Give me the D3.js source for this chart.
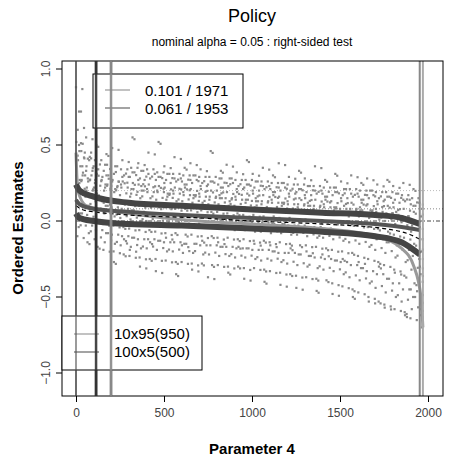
<!DOCTYPE html><html><head><meta charset="utf-8">
<script src="https://cdn.jsdelivr.net/npm/d3@7"></script>
<style>body{margin:0;background:#fff}svg{font-family:Arial,"Liberation Sans",sans-serif}</style>
</head><body><svg id="c" width="474" height="473"></svg>
<script>
const title="Policy", subtitle="nominal alpha = 0.05 : right-sided test";
const xTicks=[0,500,1000,1500,2000], yTicks=[-1.0,-0.5,0.0,0.5,1.0];
const legend1=["0.101 / 1971","0.061 / 1953"], legend2=["10x95(950)","100x5(500)"];
const vLines=[0,114,199,1953,1971];
const hLines=[0.2,0.08,0];
const darkUpper=[[0,0.24],[20,0.2],[100,0.16],[300,0.12],[600,0.1],[1000,0.075],[1400,0.055],[1700,0.04],[1850,0.02],[1953,-0.02]];
const darkMid=[[0,0.14],[20,0.11],[100,0.08],[300,0.06],[600,0.04],[1000,0.02],[1400,0.0],[1700,-0.02],[1850,-0.04],[1953,-0.06]];
const darkLower=[[0,0.05],[20,0.02],[100,0.0],[300,-0.02],[600,-0.03],[1000,-0.05],[1400,-0.07],[1700,-0.1],[1850,-0.14],[1953,-0.22]];
const center=[[0,0.1],[50,0.07],[300,0.04],[700,0.02],[1000,0.0],[1400,-0.02],[1750,-0.05],[1900,-0.09],[1953,-0.12]];
const lightLine=[[0,0.45],[10,0.2],[60,0.1],[300,0.05],[700,0.0],[1000,-0.02],[1400,-0.05],[1700,-0.1],[1850,-0.18],[1920,-0.3],[1960,-0.5],[1971,-0.7]];
const binX=[0,50,100,150,200,250,300,350,400,450,500,550,600,650,700,750,800,850,900,950,1000,1050,1100,1150,1200,1250,1300,1350,1400,1450,1500,1550,1600,1650,1700,1750,1800,1850,1900,1950];
const binY=[
[0.88,0.72,0.6,0.52,0.46,0.4,0.33,0.27,0.2,0.12,0.05,-0.04,-0.1,0.36,0.5,0.43,0.3,0.25],
[0.55,0.45,0.41,0.36,0.3,0.26,0.22,0.16,0.1,0.04,-0.03,-0.08,-0.14,0.33,0.4,0.28,0.2],
[0.5,0.4,0.36,0.31,0.27,0.22,0.18,0.13,0.07,0.0,-0.06,-0.12,-0.17,0.34,0.25,0.15],
[0.44,0.37,0.33,0.29,0.24,0.2,0.15,0.1,0.05,-0.02,-0.08,-0.14,-0.19,0.3,0.22,0.12],
[0.48,0.36,0.31,0.27,0.23,0.19,0.14,0.09,0.03,-0.03,-0.09,-0.15,-0.2,0.26,0.21,-0.27],
[0.4,0.34,0.3,0.26,0.22,0.17,0.12,0.08,0.02,-0.04,-0.1,-0.16,-0.22,0.29,0.24,-0.12],
[0.55,0.35,0.29,0.25,0.21,0.16,0.11,0.07,0.01,-0.05,-0.11,-0.17,-0.23,0.32,0.18,-0.19],
[0.38,0.33,0.28,0.24,0.2,0.15,0.1,0.06,0.0,-0.06,-0.12,-0.18,-0.24,0.27,0.23,-0.3],
[0.45,0.34,0.28,0.24,0.19,0.15,0.1,0.05,0.0,-0.06,-0.12,-0.18,-0.25,0.31,0.21,-0.14],
[0.52,0.32,0.27,0.23,0.19,0.14,0.09,0.05,-0.01,-0.07,-0.13,-0.19,-0.25,0.29,0.2,-0.33],
[0.36,0.31,0.27,0.22,0.18,0.14,0.09,0.04,-0.02,-0.08,-0.14,-0.2,-0.26,0.25,0.16,-0.11],
[0.42,0.31,0.26,0.22,0.18,0.13,0.08,0.04,-0.02,-0.08,-0.14,-0.2,-0.27,0.28,0.2,-0.35],
[0.35,0.3,0.26,0.22,0.17,0.13,0.08,0.03,-0.03,-0.09,-0.15,-0.21,-0.27,0.24,0.19,-0.16],
[0.38,0.3,0.25,0.21,0.17,0.12,0.07,0.03,-0.03,-0.09,-0.15,-0.21,-0.28,0.27,0.15,-0.32],
[0.34,0.29,0.25,0.21,0.16,0.12,0.07,0.02,-0.04,-0.1,-0.16,-0.22,-0.28,0.23,0.18,-0.13],
[0.46,0.29,0.24,0.2,0.16,0.11,0.06,0.02,-0.04,-0.1,-0.16,-0.22,-0.29,0.26,0.14,-0.37],
[0.33,0.28,0.24,0.2,0.15,0.11,0.06,0.01,-0.05,-0.11,-0.17,-0.23,-0.29,0.22,0.17,-0.14],
[0.37,0.28,0.23,0.19,0.15,0.1,0.05,0.01,-0.05,-0.11,-0.17,-0.23,-0.3,0.25,0.13,-0.34],
[0.32,0.27,0.23,0.19,0.14,0.1,0.05,0.0,-0.06,-0.12,-0.18,-0.24,-0.3,0.21,0.16,-0.17],
[0.4,0.27,0.22,0.18,0.14,0.09,0.04,0.0,-0.06,-0.12,-0.18,-0.24,-0.31,0.24,0.12,-0.38],
[0.31,0.26,0.22,0.18,0.13,0.09,0.04,-0.01,-0.07,-0.13,-0.19,-0.25,-0.31,0.2,0.15,-0.15],
[0.35,0.26,0.21,0.17,0.13,0.08,0.03,-0.01,-0.07,-0.13,-0.19,-0.26,-0.32,0.23,0.11,-0.4],
[0.3,0.25,0.21,0.17,0.12,0.08,0.03,-0.02,-0.08,-0.14,-0.2,-0.26,-0.33,0.19,0.14,-0.16],
[0.38,0.25,0.2,0.16,0.12,0.07,0.02,-0.02,-0.08,-0.14,-0.21,-0.27,-0.34,0.22,0.1,-0.42],
[0.29,0.24,0.2,0.16,0.11,0.07,0.02,-0.03,-0.09,-0.15,-0.21,-0.28,-0.35,0.18,0.13,-0.18],
[0.33,0.24,0.19,0.15,0.11,0.06,0.01,-0.03,-0.09,-0.16,-0.22,-0.29,-0.36,0.21,0.09,-0.44],
[0.28,0.23,0.19,0.15,0.1,0.06,0.01,-0.04,-0.1,-0.16,-0.23,-0.3,-0.37,0.17,0.12,-0.2],
[0.36,0.23,0.18,0.14,0.1,0.05,0.0,-0.04,-0.11,-0.17,-0.24,-0.31,-0.38,0.2,0.08,-0.46],
[0.27,0.22,0.18,0.14,0.09,0.05,0.0,-0.05,-0.11,-0.18,-0.25,-0.32,-0.39,0.16,0.11,-0.22],
[0.31,0.22,0.17,0.13,0.09,0.04,-0.01,-0.06,-0.12,-0.19,-0.26,-0.33,-0.41,0.19,0.07,-0.48],
[0.26,0.21,0.17,0.13,0.08,0.04,-0.01,-0.07,-0.13,-0.2,-0.27,-0.35,-0.43,0.15,0.1,-0.25],
[0.3,0.21,0.16,0.12,0.08,0.03,-0.02,-0.08,-0.14,-0.21,-0.29,-0.37,-0.45,0.18,0.06,-0.5],
[0.25,0.2,0.16,0.12,0.07,0.03,-0.03,-0.09,-0.15,-0.23,-0.31,-0.39,-0.47,0.14,0.09,-0.27],
[0.28,0.2,0.15,0.11,0.07,0.02,-0.04,-0.1,-0.17,-0.25,-0.33,-0.41,-0.5,0.17,0.05,-0.53],
[0.24,0.19,0.15,0.11,0.06,0.01,-0.05,-0.12,-0.19,-0.27,-0.35,-0.44,-0.53,0.13,0.08,-0.3],
[0.27,0.19,0.14,0.1,0.05,0.0,-0.07,-0.14,-0.21,-0.29,-0.38,-0.47,-0.55,0.16,0.04,-0.57],
[0.23,0.18,0.14,0.09,0.04,-0.02,-0.09,-0.16,-0.24,-0.32,-0.41,-0.5,-0.58,0.12,0.06,-0.34],
[0.25,0.17,0.13,0.08,0.03,-0.04,-0.11,-0.19,-0.27,-0.36,-0.45,-0.53,-0.6,0.14,0.02,-0.62],
[0.21,0.15,0.11,0.06,0.0,-0.07,-0.15,-0.23,-0.32,-0.41,-0.5,-0.58,-0.64,0.1,-0.03,-0.45],
[0.12,0.08,0.03,-0.04,-0.12,-0.2,-0.3,-0.4,-0.5,-0.58,-0.65,-0.7,-0.35,-0.25,-0.55,-0.62]];

const svg=d3.select("#c");
const L=62,R=443,T=61,B=396;
const x=d3.scaleLinear().domain([0,2000]).range([76,428]);
const y=d3.scaleLinear().domain([-1,1]).range([373,69]);
svg.append("text").attr("x",252).attr("y",22).attr("text-anchor","middle").attr("font-size",18).text(title);
svg.append("text").attr("x",252).attr("y",46).attr("text-anchor","middle").attr("font-size",12).text(subtitle);
svg.append("clipPath").attr("id","cp").append("rect").attr("x",L).attr("y",T).attr("width",R-L).attr("height",B-T);
const g=svg.append("g").attr("clip-path","url(#cp)");
g.append("line").attr("x1",x(0)).attr("x2",R).attr("y1",y(hLines[0])).attr("y2",y(hLines[0])).attr("stroke","#bbb").attr("stroke-dasharray","1,2");
g.append("line").attr("x1",x(0)).attr("x2",R).attr("y1",y(hLines[1])).attr("y2",y(hLines[1])).attr("stroke","#888").attr("stroke-dasharray","1,2");
g.append("line").attr("x1",x(0)).attr("x2",R).attr("y1",y(hLines[2])).attr("y2",y(hLines[2])).attr("stroke","#444").attr("stroke-dasharray","4,2,1,2");
binX.forEach((bx,i)=>binY[i].forEach((v,j)=>{
  [0,25].forEach((o,k)=>{
    const xi=Math.min(bx+o+((j*17.3+i*7.7+k*11)%25),1971);
    const yy=y(v+(k?0.012*((j%3)-1):0));
    g.append("rect").attr("x",x(xi)-1.1).attr("y",yy-1.1).attr("width",2.2).attr("height",2.2).attr("fill","#8a8a8a");
  });
}));
const line=d3.line().x(d=>x(d[0])).y(d=>y(d[1])).curve(d3.curveMonotoneX);
g.append("path").attr("d",line(lightLine)).attr("fill","none").attr("stroke","#999").attr("stroke-width",3);
[darkUpper,darkLower].forEach(c=>g.append("path").attr("d",line(c)).attr("fill","none").attr("stroke","#444").attr("stroke-width",6));
g.append("path").attr("d",line(darkMid)).attr("fill","none").attr("stroke","#555").attr("stroke-width",4);
g.append("path").attr("d",line(center)).attr("fill","none").attr("stroke","#000").attr("stroke-width",1.2).attr("stroke-dasharray","4,3");
const vs=[["#555",1.3],["#333",2.5],["#888",2.5],["#888",2],["#aaa",2]];
vLines.forEach((v,i)=>g.append("line").attr("x1",x(v)).attr("x2",x(v)).attr("y1",T).attr("y2",B).attr("stroke",vs[i][0]).attr("stroke-width",vs[i][1]));
svg.append("rect").attr("x",L).attr("y",T).attr("width",R-L).attr("height",B-T).attr("fill","none").attr("stroke","#000");
const xa=svg.append("g").attr("transform",`translate(0,${B})`).call(d3.axisBottom(x).tickValues(xTicks).tickSize(6).tickPadding(6).tickFormat(d3.format("d")));
const ya=svg.append("g").attr("transform",`translate(${L},0)`).call(d3.axisLeft(y).tickValues(yTicks).tickSize(6).tickFormat(d3.format(".1f")));
[xa,ya].forEach(a=>{a.select(".domain").remove();a.selectAll("text").attr("font-size",12).attr("fill","#444").attr("font-family","Arial,sans-serif");});
ya.selectAll(".tick").attr("transform",null);
ya.selectAll(".tick line").each(function(d){d3.select(this).attr("y1",y(d)).attr("y2",y(d));});
ya.selectAll("text").each(function(d){d3.select(this).attr("x",0).attr("dy",null).attr("y",4).attr("text-anchor","middle").attr("transform",`translate(-16,${y(d)}) rotate(-90)`);});
svg.append("text").attr("x",252).attr("y",454).attr("text-anchor","middle").attr("font-size",15).attr("font-weight","bold").text("Parameter 4");
svg.append("text").attr("transform","translate(23,228) rotate(-90)").attr("text-anchor","middle").attr("font-size",15).attr("font-weight","bold").text("Ordered Estimates");
svg.append("rect").attr("x",93).attr("y",74).attr("width",150).attr("height",54).attr("fill","#fff").attr("stroke","#000");
legend1.forEach((t,i)=>{const yy=94+i*18;
 svg.append("line").attr("x1",105).attr("x2",130).attr("y1",yy-4).attr("y2",yy-4).attr("stroke",i?"#666":"#999").attr("stroke-width",1.2);
 svg.append("text").attr("x",145).attr("y",yy+2).attr("font-size",15).text(t);});
svg.append("rect").attr("x",62).attr("y",316).attr("width",140).attr("height",54).attr("fill","#fff").attr("stroke","#000");
legend2.forEach((t,i)=>{const yy=334+i*18;
 svg.append("line").attr("x1",74).attr("x2",99).attr("y1",yy).attr("y2",yy).attr("stroke",i?"#666":"#999").attr("stroke-width",1.2);
 svg.append("text").attr("x",114).attr("y",yy+5).attr("font-size",15).text(t);});
// vertical lines pass over legend boxes as in reference
[0,1,2].forEach(i=>svg.append("line").attr("x1",x(vLines[i])).attr("x2",x(vLines[i])).attr("y1",T).attr("y2",B).attr("stroke",vs[i][0]).attr("stroke-width",vs[i][1]).attr("opacity",0.9));
</script></body></html>
